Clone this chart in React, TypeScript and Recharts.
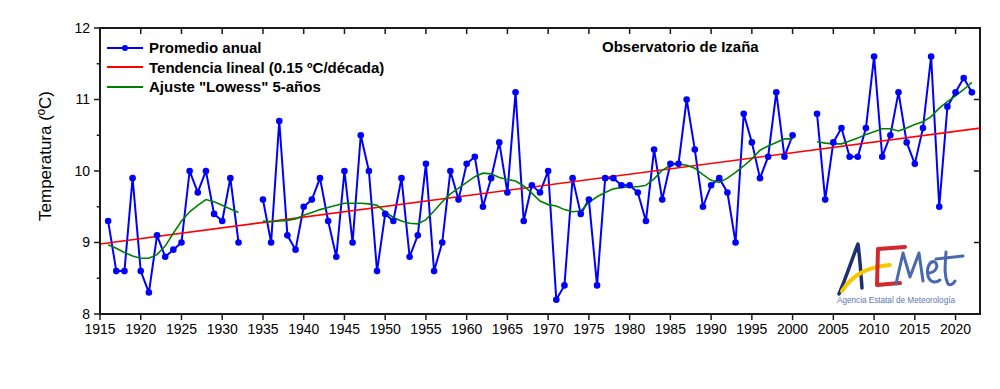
import React from 'react';
import { ComposedChart, Line, XAxis, YAxis, Legend, ReferenceArea, ReferenceLine } from 'recharts';

const years = [
  1916, 1917, 1918, 1919, 1920, 1921, 1922, 1923, 1924, 1925, 1926, 1927, 1928, 1929, 1930,
  1931, 1932, 1933, 1934, 1935, 1936, 1937, 1938, 1939, 1940, 1941, 1942, 1943, 1944, 1945,
  1946, 1947, 1948, 1949, 1950, 1951, 1952, 1953, 1954, 1955, 1956, 1957, 1958, 1959, 1960,
  1961, 1962, 1963, 1964, 1965, 1966, 1967, 1968, 1969, 1970, 1971, 1972, 1973, 1974, 1975,
  1976, 1977, 1978, 1979, 1980, 1981, 1982, 1983, 1984, 1985, 1986, 1987, 1988, 1989, 1990,
  1991, 1992, 1993, 1994, 1995, 1996, 1997, 1998, 1999, 2000, 2001, 2002, 2003, 2004, 2005,
  2006, 2007, 2008, 2009, 2010, 2011, 2012, 2013, 2014, 2015, 2016, 2017, 2018, 2019, 2020,
  2021, 2022,
];

const annualMean: (number | null)[] = [
  9.3, 8.6, 8.6, 9.9, 8.6, 8.3, 9.1, 8.8, 8.9, 9.0, 10.0, 9.7, 10.0, 9.4, 9.3,
  9.9, 9.0, null, null, 9.6, 9.0, 10.7, 9.1, 8.9, 9.5, 9.6, 9.9, 9.3, 8.8, 10.0,
  9.0, 10.5, 10.0, 8.6, 9.4, 9.3, 9.9, 8.8, 9.1, 10.1, 8.6, 9.0, 10.0, 9.6, 10.1,
  10.2, 9.5, 9.9, 10.4, 9.7, 11.1, 9.3, 9.8, 9.7, 10.0, 8.2, 8.4, 9.9, 9.4, 9.6,
  8.4, 9.9, 9.9, 9.8, 9.8, 9.7, 9.3, 10.3, 9.6, 10.1, 10.1, 11.0, 10.3, 9.5, 9.8,
  9.9, 9.7, 9.0, 10.8, 10.4, 9.9, 10.2, 11.1, 10.2, 10.5, null, null, 10.8, 9.6, 10.4,
  10.6, 10.2, 10.2, 10.6, 11.6, 10.2, 10.5, 11.1, 10.4, 10.1, 10.6, 11.6, 9.5, 10.9, 11.1,
  11.3, 11.1,
];

const lowess5: (number | null)[] = [
  8.97, 8.92, 8.86, 8.81, 8.78, 8.78, 8.83, 8.95, 9.13, 9.3, 9.43, 9.52, 9.6, 9.57, 9.52,
  9.47, 9.42, null, null, 9.3, 9.29, 9.3, 9.31, 9.33, 9.38, 9.42, 9.46, 9.49, 9.52, 9.55,
  9.55, 9.55, 9.54, 9.52, 9.43, 9.35, 9.3, 9.27, 9.26, 9.32, 9.44, 9.57, 9.68, 9.76, 9.84,
  9.92, 9.97, 9.96, 9.91, 9.88, 9.86, 9.79, 9.69, 9.58, 9.53, 9.51, 9.46, 9.43, 9.44, 9.56,
  9.64, 9.7, 9.75, 9.77, 9.78, 9.78, 9.8, 9.89, 10.01, 10.08, 10.1, 10.08, 10.04, 9.95, 9.87,
  9.84, 9.9, 9.98, 10.07, 10.17, 10.29, 10.35, 10.4, 10.45, 10.45, null, null, 10.41, 10.39, 10.38,
  10.38, 10.42, 10.46, 10.51, 10.55, 10.59, 10.59, 10.56, 10.6, 10.65, 10.69, 10.76, 10.88, 10.97, 11.05,
  11.14, 11.24,
];

const trendYears = [1915, 2023];
const trendValues = [8.98, 10.6];

const xDomain = [1915, 2023];
const yDomain = [8, 12];
const xTicks = [1915, 1920, 1925, 1930, 1935, 1940, 1945, 1950, 1955, 1960, 1965, 1970, 1975, 1980,
  1985, 1990, 1995, 2000, 2005, 2010, 2015, 2020];
const yTicks = [8, 9, 10, 11, 12];
const yMinorTicks = [8.5, 9.5, 10.5, 11.5];

const seriesNames = ['Promedio anual', 'Tendencia lineal (0.15 ºC/década)', 'Ajuste "Lowess" 5-años'];
const stationName = 'Observatorio de Izaña';
const yTitle = 'Temperatura (ºC)';

const data = years.map((y, i) => ({ year: y, mean: annualMean[i], lowess: lowess5[i] }));
const trendData = trendYears.map((y, i) => ({ year: y, trend: trendValues[i] }));

// tick-mark lengths expressed in data units (inner ticks of the frame)
const topTickLen = 0.085; // degrees
const rightTickLen = 0.75; // years
const minorTickLen = 0.4; // years

const BLUE = '#0000ff';
const RED = '#ff0000';
const GREEN = '#008000';
const AXIS = '#1a1a1a';
const FONT = 'Arial, "Liberation Sans", Helvetica, sans-serif';

const LegendContent = () => {
  const colors = [BLUE, RED, GREEN];
  return (
    <div style={{ fontFamily: FONT, fontWeight: 'bold', fontSize: 15, color: '#000' }}>
      {seriesNames.map((n, i) => (
        <div key={n} style={{ display: 'flex', alignItems: 'center', height: 19.5 }}>
          <svg width={40} height={10} style={{ marginRight: 2 }}>
            <line x1={0} y1={5} x2={36} y2={5} stroke={colors[i]} strokeWidth={2} />
            {i === 0 && <circle cx={18} cy={5} r={3} fill={BLUE} />}
          </svg>
          <span style={{ whiteSpace: 'nowrap', lineHeight: '19px' }}>{n}</span>
        </div>
      ))}
    </div>
  );
};

export default function App() {
  return (
    <div style={{ position: 'absolute', left: 0, top: 0, width: 1000, height: 389, background: '#fff' }}>
      <ComposedChart
        width={1000}
        height={389}
        data={data}
        margin={{ top: 28, right: 20, bottom: 45, left: 40 }}
      >
        <XAxis
          dataKey="year"
          type="number"
          domain={xDomain}
          ticks={xTicks}
          height={30}
          tickSize={6}
          tickMargin={4}
          interval={0}
          axisLine={{ stroke: AXIS, strokeWidth: 2 }}
          tickLine={{ stroke: AXIS, strokeWidth: 1.5 }}
          tick={{ fill: '#000', fontSize: 14, fontFamily: FONT }}
        />
        <YAxis
          type="number"
          domain={yDomain}
          ticks={yTicks}
          width={60}
          tickSize={6}
          tickMargin={4}
          interval={0}
          axisLine={{ stroke: AXIS, strokeWidth: 2 }}
          tickLine={{ stroke: AXIS, strokeWidth: 1.5 }}
          tick={{ fill: '#000', fontSize: 14, fontFamily: FONT }}
        />
        <ReferenceArea
          x1={xDomain[0]}
          x2={xDomain[1]}
          y1={yDomain[0]}
          y2={yDomain[1]}
          fill="none"
          stroke={AXIS}
          strokeWidth={2}
          ifOverflow="visible"
        />
        {xTicks.map((t) => (
          <ReferenceLine
            key={'tt' + t}
            segment={[{ x: t, y: yDomain[1] }, { x: t, y: yDomain[1] - topTickLen }]}
            stroke={AXIS}
            strokeWidth={1.5}
            ifOverflow="visible"
          />
        ))}
        {yTicks.map((v) => (
          <ReferenceLine
            key={'rt' + v}
            segment={[{ x: xDomain[1], y: v }, { x: xDomain[1] - rightTickLen, y: v }]}
            stroke={AXIS}
            strokeWidth={1.5}
            ifOverflow="visible"
          />
        ))}
        {yMinorTicks.map((v) => (
          <ReferenceLine
            key={'mt' + v}
            segment={[{ x: xDomain[0] - minorTickLen, y: v }, { x: xDomain[0], y: v }]}
            stroke={AXIS}
            strokeWidth={1.5}
            ifOverflow="visible"
          />
        ))}
        <Legend
          layout="vertical"
          align="center"
          verticalAlign="middle"
          content={<LegendContent />}
          wrapperStyle={{ position: 'absolute', left: 107, top: 38, width: 320, height: 60 }}
        />
        <Line
          dataKey="mean"
          name={seriesNames[0]}
          stroke={BLUE}
          strokeWidth={2}
          dot={{ r: 3.3, fill: BLUE, stroke: BLUE, strokeWidth: 0 }}
          connectNulls={false}
          isAnimationActive={false}
        />
        <Line
          data={trendData}
          dataKey="trend"
          name={seriesNames[1]}
          stroke={RED}
          strokeWidth={1.6}
          dot={false}
          isAnimationActive={false}
        />
        <Line
          dataKey="lowess"
          name={seriesNames[2]}
          stroke={GREEN}
          strokeWidth={1.6}
          dot={false}
          connectNulls={false}
          isAnimationActive={false}
        />
      </ComposedChart>
      <svg
        width={1000}
        height={389}
        style={{ position: 'absolute', left: 0, top: 0, pointerEvents: 'none' }}
      >
        <text
          x={0}
          y={0}
          transform="translate(45,156) rotate(-90)"
          textAnchor="middle"
          dominantBaseline="central"
          fontFamily={FONT}
          fontSize={17}
          fill="#000"
        >
          {yTitle}
        </text>
        <text x={602} y={52} fontFamily={FONT} fontSize={15} fontWeight="bold" fill="#000">
          {stationName}
        </text>
        {/* AEMet logo */}
        <g fill="none" strokeLinecap="round" strokeLinejoin="round" transform="translate(0,-3)">
          <path d="M839,297 C846,281 852,262 858,247 C860,262 861,278 862,291" stroke="#1d2f72" strokeWidth={3.5} />
          <path d="M842,294 C853,277 868,270 890,268" stroke="#f6c800" strokeWidth={4} />
          <path d="M905,250 L878,252 L877,288 L900,286" stroke="#d2282e" strokeWidth={4} />
          <path d="M896,287 L903,256 L910,280 L919,256 L923,284" stroke="#4a69ad" strokeWidth={3} />
          <path d="M929,276 C936,275 939,269 935,265 C930,263 926,271 928,279 C930,286 936,286 940,283" stroke="#4a69ad" strokeWidth={3} />
          <path d="M946,255 C945,270 944,279 948,287 C951,289 954,286 955,284" stroke="#4a69ad" strokeWidth={3} />
          <path d="M936,262 L963,259" stroke="#4a69ad" strokeWidth={3} />
        </g>
        <text x={837} y={303} fontFamily={FONT} fontSize={9.5} fill="#5b76b5" textLength={118} lengthAdjust="spacingAndGlyphs">
          Agencia Estatal de Meteorología
        </text>
      </svg>
    </div>
  );
}
